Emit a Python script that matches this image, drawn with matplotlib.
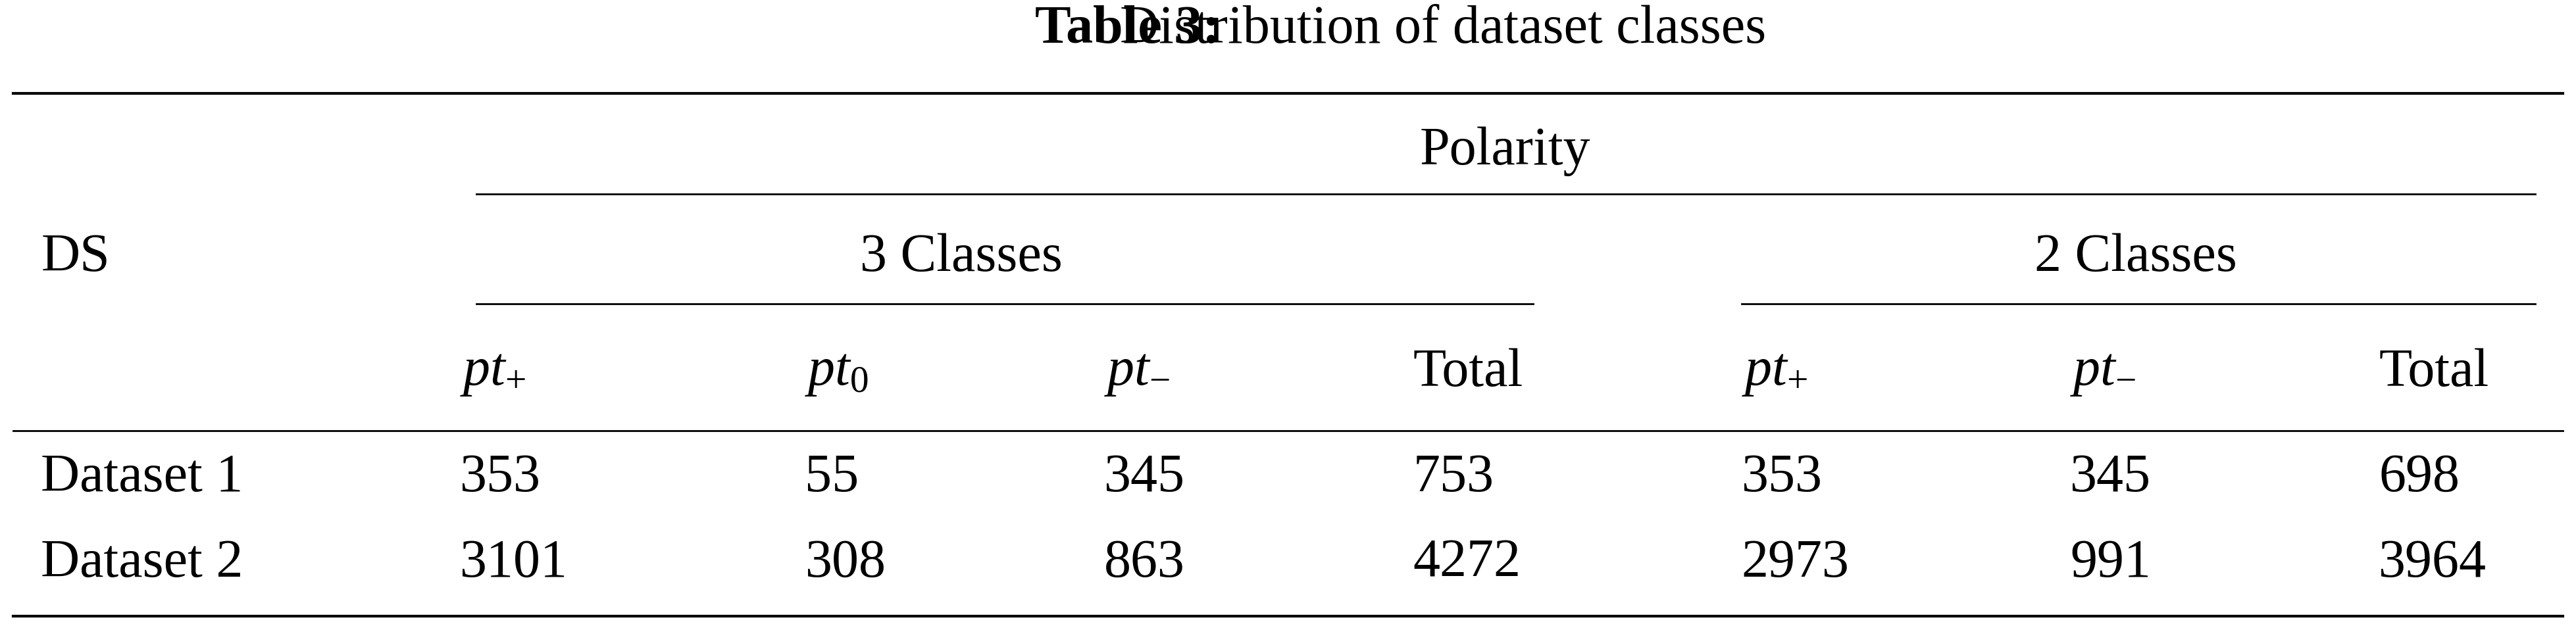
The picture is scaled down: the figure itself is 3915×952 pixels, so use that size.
import matplotlib
matplotlib.use("Agg")
import matplotlib.pyplot as plt

title_bold = "Table 3:"
title_rest = "Distribution of dataset classes"
row_labels = ["Dataset 1", "Dataset 2"]
col_labels = [r"$pt_{+}$", r"$pt_{0}$", r"$pt_{-}$", "Total", r"$pt_{+}$", r"$pt_{-}$", "Total"]
values = [
    ["353", "55", "345", "753", "353", "345", "698"],
    ["3101", "308", "863", "4272", "2973", "991", "3964"],
]

plt.rcParams['font.family'] = ['Liberation Serif', 'DejaVu Serif']
plt.rcParams['mathtext.fontset'] = 'custom'
plt.rcParams['mathtext.rm'] = 'Liberation Serif'
plt.rcParams['mathtext.it'] = 'Liberation Serif:italic'

W, H = 1568, 381
fig = plt.figure(figsize=(39.15, 9.52), dpi=100)
fs = 59

def X(x): return x / W
def Y(y): return 1 - y / H

def hline(x0, x1, y, lw=3):
    fig.add_artist(plt.Line2D([X(x0), X(x1)], [Y(y), Y(y)], color='black', lw=lw))

def txt(x, y, s, ha='left', **kw):
    fig.text(X(x), Y(y), s, ha=ha, va='center', fontsize=fs, **kw)

txt(630, 18, title_bold, fontweight='bold')
txt(1075, 18, title_rest, ha='right')
hline(8, 1560, 57)
txt(916, 92, "Polarity", ha='center')
hline(290, 1543, 118, lw=2)
txt(25, 157, "DS")
txt(585, 157, "3 Classes", ha='center')
txt(1300, 157, "2 Classes", ha='center')
hline(290, 933, 185, lw=2)
hline(1060, 1543, 185, lw=2)
col_x = [280, 490, 672, 860, 1060, 1260, 1448]
for x, s in zip(col_x, col_labels):
    txt(x, 227, s)
hline(8, 1560, 262, lw=2)
for ry, lab, vals in zip([291, 343], row_labels, values):
    txt(25, ry, lab)
    for x, v in zip(col_x, vals):
        txt(x, ry, v)
hline(8, 1560, 375)
fig.savefig("out.png", dpi=100)
